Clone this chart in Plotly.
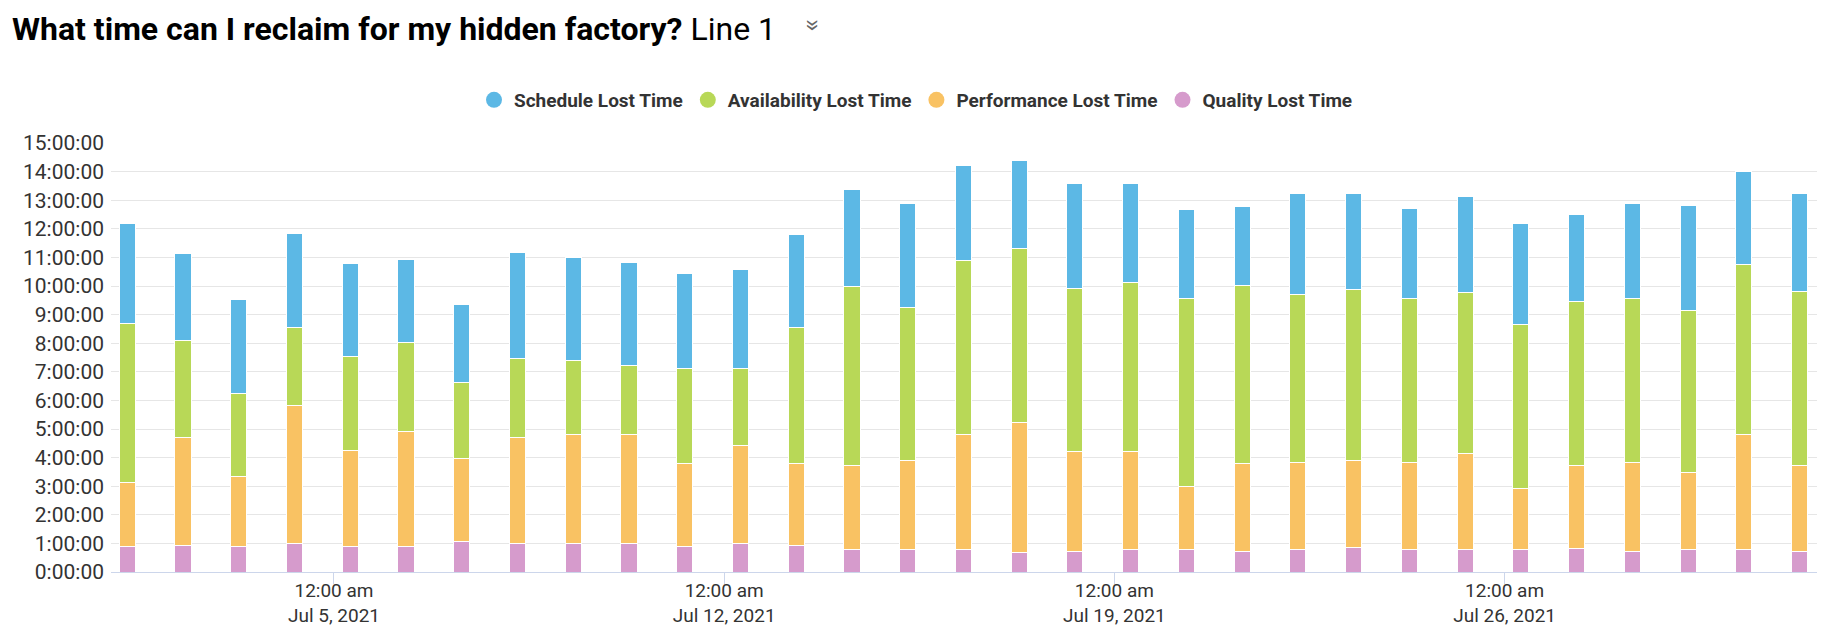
import plotly.graph_objects as go

# ---- data (hours) ----
dates = [
    "2021-07-01 07:00", "2021-07-02 07:00", "2021-07-03 07:00", "2021-07-04 07:00",
    "2021-07-05 07:00", "2021-07-06 07:00", "2021-07-07 07:00", "2021-07-08 07:00",
    "2021-07-09 07:00", "2021-07-10 07:00", "2021-07-11 07:00", "2021-07-12 07:00",
    "2021-07-13 07:00", "2021-07-14 07:00", "2021-07-15 07:00", "2021-07-16 07:00",
    "2021-07-17 07:00", "2021-07-18 07:00", "2021-07-19 07:00", "2021-07-20 07:00",
    "2021-07-21 07:00", "2021-07-22 07:00", "2021-07-23 07:00", "2021-07-24 07:00",
    "2021-07-25 07:00", "2021-07-26 07:00", "2021-07-27 07:00", "2021-07-28 07:00",
    "2021-07-29 07:00", "2021-07-30 07:00", "2021-07-31 07:00",
]
quality_lost = [0.88, 0.92, 0.88, 1.01, 0.88, 0.88, 1.06, 0.98, 0.98, 1.01, 0.88,
                0.98, 0.91, 0.77, 0.77, 0.77, 0.67, 0.71, 0.77, 0.77, 0.71, 0.77,
                0.87, 0.77, 0.77, 0.77, 0.81, 0.71, 0.77, 0.77, 0.71]
performance_lost = [2.24, 3.78, 2.45, 4.82, 3.36, 4.03, 2.92, 3.72, 3.83, 3.80, 2.90,
                    3.43, 2.87, 2.97, 3.12, 4.04, 4.54, 3.49, 3.43, 2.21, 3.07, 3.07,
                    3.02, 3.07, 3.38, 2.15, 2.93, 3.13, 2.71, 4.04, 3.03]
availability_lost = [5.57, 3.38, 2.91, 2.71, 3.28, 3.13, 2.65, 2.77, 2.60, 2.41, 3.33,
                     2.70, 4.76, 6.23, 5.36, 6.09, 6.10, 5.73, 5.92, 6.59, 6.24, 5.88,
                     5.99, 5.73, 5.63, 5.73, 5.72, 5.73, 5.68, 5.93, 6.08]
schedule_lost = [3.51, 3.06, 3.30, 3.31, 3.26, 2.89, 2.71, 3.71, 3.58, 3.60, 3.31,
                 3.47, 3.26, 3.41, 3.62, 3.31, 3.09, 3.65, 3.46, 3.09, 2.75, 3.51,
                 3.35, 3.15, 3.35, 3.55, 3.05, 3.30, 3.65, 3.26, 3.41]

y_tick_vals = list(range(0, 16))
y_tick_text = [f"{h}:00:00" for h in y_tick_vals]
x_tick_vals = ["2021-07-05 00:00", "2021-07-12 00:00", "2021-07-19 00:00", "2021-07-26 00:00"]
x_tick_text = ["12:00 am<br>Jul 5, 2021", "12:00 am<br>Jul 12, 2021",
               "12:00 am<br>Jul 19, 2021", "12:00 am<br>Jul 26, 2021"]

series = [
    ("Quality Lost Time", quality_lost, "#d69bcc"),
    ("Performance Lost Time", performance_lost, "#f9c263"),
    ("Availability Lost Time", availability_lost, "#b8d857"),
    ("Schedule Lost Time", schedule_lost, "#5cb8e5"),
]

BAR_W = 0.29 * 86400000  # ms

# figure sits inside the page body (8px default margin)
W, H = 1816, 626
L, R, T, B = 103, 7, 135, 62

fig = go.Figure()
for name, vals, col in series:
    fig.add_trace(go.Bar(
        x=dates, y=vals, name=name, width=BAR_W,
        marker=dict(color=col, line=dict(color="white", width=1)),
        showlegend=False,
    ))
# legend entries with circular symbols
for name, vals, col in reversed(series):
    fig.add_trace(go.Scatter(
        x=[None], y=[None], mode="markers", name=name,
        marker=dict(color=col, size=16, symbol="circle"),
    ))

fig.update_layout(
    width=W, height=H,
    barmode="stack",
    plot_bgcolor="white", paper_bgcolor="white",
    font=dict(family="Roboto", color="#333333", size=17),
    margin=dict(l=L, r=R, t=T, b=B),
    title=dict(
        text="<b>What time can I reclaim for my hidden factory?</b> Line 1",
        x=4 / W, xref="container", xanchor="left",
        y=1 - 21 / H, yref="container", yanchor="middle",
        pad=dict(l=0, r=0, t=0, b=0),
        font=dict(family="Roboto", size=32, color="#000000"),
    ),
    legend=dict(
        orientation="h", x=0.5, xref="container", xanchor="center",
        y=1 - 92 / H, yref="container", yanchor="middle",
        font=dict(family="Roboto", size=19, color="#333333", weight="bold"),
        traceorder="normal",
    ),
    xaxis=dict(
        type="date",
        range=["2021-07-01 00:00", "2021-07-31 14:30"],
        tickvals=x_tick_vals, ticktext=x_tick_text,
        ticks="outside", ticklen=11, tickcolor="#ccd6eb", tickwidth=1,
        ticklabelstandoff=-10,
        showline=True, linecolor="#ccd6eb", linewidth=1,
        showgrid=False, zeroline=False,
        tickfont=dict(size=19, color="#333333"),
    ),
    yaxis=dict(
        range=[0, 15], tickvals=y_tick_vals, ticktext=y_tick_text,
        showgrid=True, gridcolor="#e6e6e6", gridwidth=1,
        zeroline=False, ticks="", ticklabelstandoff=6,
        tickfont=dict(size=21, color="#333333"),
    ),
)

plot_w = W - L - R
plot_h = H - T - B
fig.add_annotation(
    text="»", textangle=90, showarrow=False,
    xref="paper", yref="paper",
    x=(806 - L) / plot_w, y=(H - B - 9) / plot_h,
    font=dict(size=26, color="#666666"),
)

fig.write_html("out.html")
